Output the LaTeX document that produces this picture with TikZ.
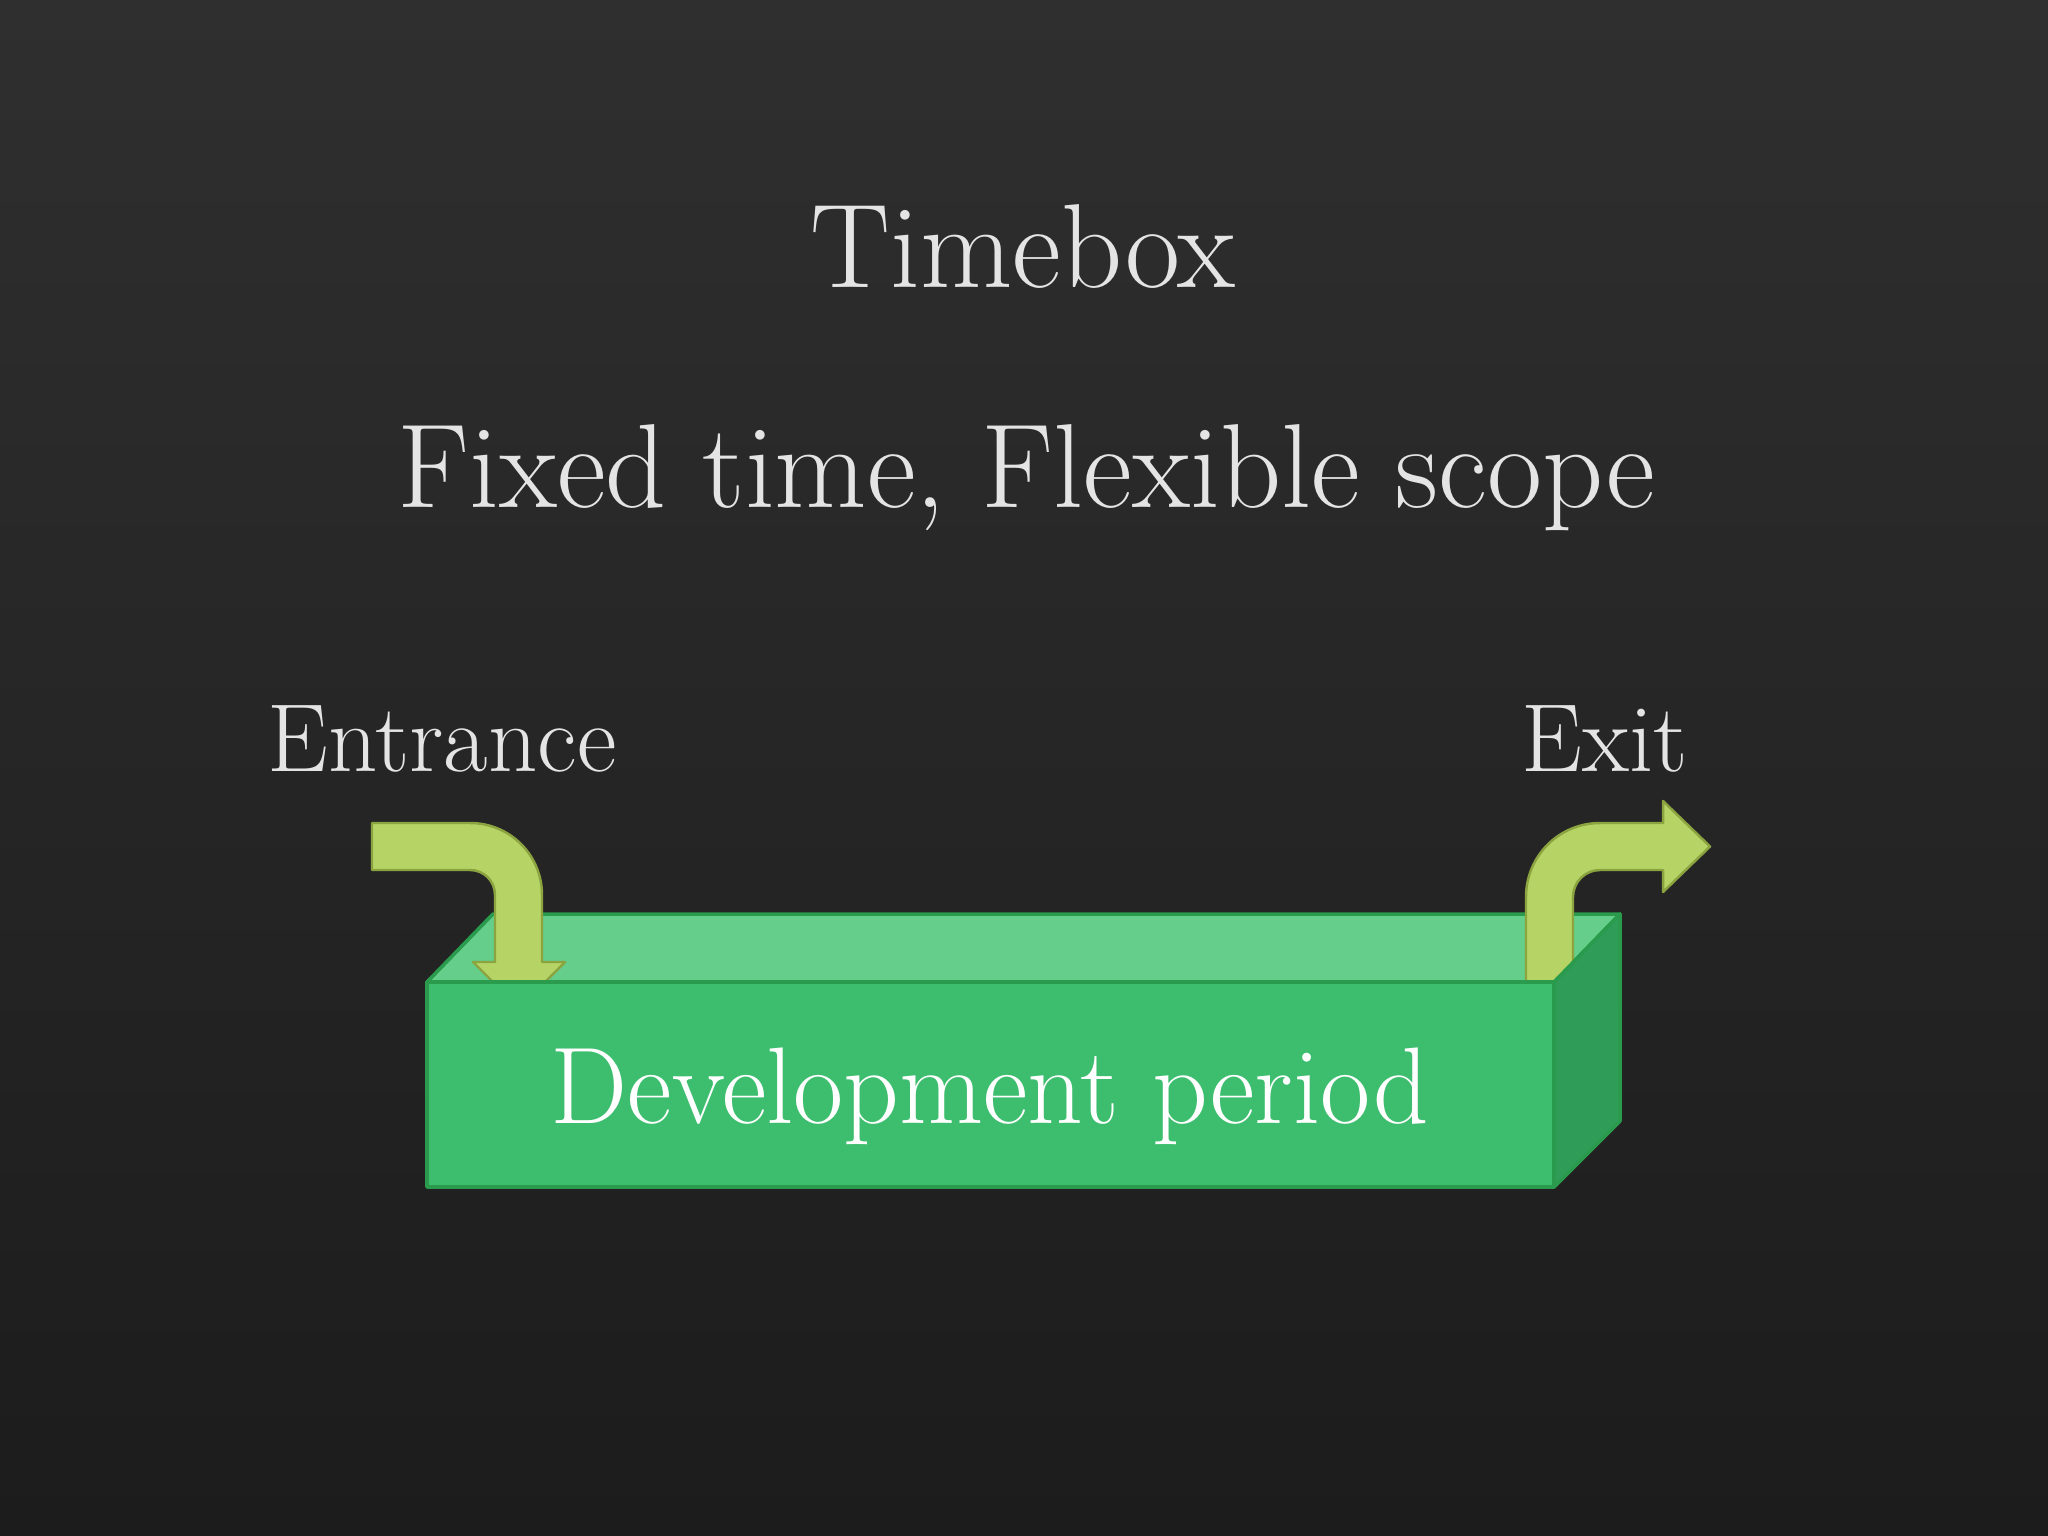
\documentclass[tikz,border=0pt]{standalone}
\usetikzlibrary{positioning}

\definecolor{bgtop}{HTML}{2F2F2F}
\definecolor{bgbot}{HTML}{1C1C1D}
\definecolor{textgrey}{HTML}{E4E4E4}
\definecolor{frontgreen}{HTML}{3DBE6E}
\definecolor{topgreen}{HTML}{64CE8A}
\definecolor{sidegreen}{HTML}{2F9C57}
\definecolor{edgegreen}{HTML}{2A9A4C}
\definecolor{arrowfill}{HTML}{B6D465}
\definecolor{arrowedge}{HTML}{8CA440}

\begin{document}
\begin{tikzpicture}[
        x=0.01cm, y=-0.01cm,
        heading/.style={text=textgrey, inner sep=0pt, anchor=base, font=\fontsize{34}{40}\selectfont},
        slogan/.style={text=textgrey, inner sep=0pt, anchor=base, font=\fontsize{34}{40}\selectfont},
        doorlabel/.style={text=textgrey, inner sep=0pt, anchor=base, font=\fontsize{27.5}{33}\selectfont},
        boxlabel/.style={text=white, inner sep=0pt, anchor=base, font=\fontsize{31}{38}\selectfont},
        face/.style={draw=edgegreen, line width=1pt, line join=round},
        bentarrow/.style={fill=arrowfill, draw=arrowedge, line width=0.7pt, line join=round}
    ]

    % Background
    \fill[top color=bgtop, bottom color=bgbot] (0,0) rectangle (2048,1536);
    \useasboundingbox (0,0) rectangle (2048,1536);

    % Nodes
    \node (title) [heading] at (1023,287) {Timebox};
    \node (subtitle) [slogan] at (1026,507) {Fixed time, Flexible scope};
    \node (entrance) [doorlabel] at (442,771) {Entrance};
    \node (exit) [doorlabel] at (1605,771) {Exit};

    % Box, back part
    \draw[face, fill=topgreen] (427,982) -- (493,914) -- (1620,914) -- (1554,982) -- cycle;

    % Arrows
    \draw[bentarrow] (372,823) -- (470,823) .. controls (510,823) and (542,855) .. (542,895)
        -- (542,962) -- (565,962) -- (519,1008) -- (473,962) -- (495,962) -- (495,895)
        .. controls (495,881) and (484,870) .. (470,870) -- (372,870) -- cycle;
    \draw[bentarrow] (1526,990) -- (1526,897) .. controls (1526,856) and (1559,823) .. (1600,823)
        -- (1663,823) -- (1663,801) -- (1710,846.5) -- (1663,892) -- (1663,870) -- (1600,870)
        .. controls (1585,870) and (1573,882) .. (1573,897) -- (1573,990) -- cycle;

    % Box, front part
    \draw[face, fill=sidegreen] (1554,982) -- (1620,914) -- (1620,1121) -- (1554,1187) -- cycle;
    \draw[face, fill=frontgreen] (427,982) rectangle (1554,1187);
    \node (period) [boxlabel] at (990,1123) {Development period};

\end{tikzpicture}
\end{document}
